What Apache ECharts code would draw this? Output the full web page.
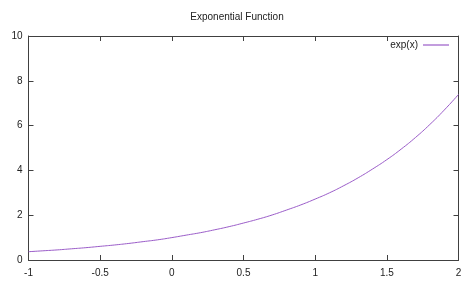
<!DOCTYPE html>
<html>
<head>
<meta charset="utf-8">
<script src="https://cdn.jsdelivr.net/npm/echarts@6/dist/echarts.min.js"></script>
<style>
html,body{margin:0;padding:0;background:#fff;}
#chart{width:474px;height:289px;}
</style>
</head>
<body>
<div id="chart"></div>
<script>
// Values
var xValues = [-1.0,-0.9,-0.8,-0.7,-0.6,-0.5,-0.4,-0.3,-0.2,-0.1,0.0,0.1,0.2,0.3,0.4,0.5,0.6,0.7,0.8,0.9,1.0,1.1,1.2,1.3,1.4,1.5,1.6,1.7,1.8,1.9,2.0];
var yValues = [0.37,0.41,0.45,0.50,0.55,0.61,0.67,0.74,0.82,0.90,1.00,1.11,1.22,1.35,1.49,1.65,1.82,2.01,2.23,2.46,2.72,3.00,3.32,3.67,4.06,4.48,4.95,5.47,6.05,6.69,7.39];
var seriesName = 'exp(x)';
var titleText = 'Exponential Function';

var font = 'Liberation Sans, Arial, sans-serif';
var axisColor = '#404040';
var textColor = '#222';
var lineColor = '#9a5cc8';
var data = xValues.map(function(x, i){ return [x, yValues[i]]; });

var chart = echarts.init(document.getElementById('chart'), null, {renderer:'canvas'});
chart.setOption({
  animation:false,
  backgroundColor:'#fff',
  title:{text:titleText, left:'center', top:7,
    textStyle:{fontFamily:font, fontSize:10, fontWeight:'normal', color:textColor}},
  legend:{right:20, top:35, align:'right', itemWidth:26, itemHeight:1.2, itemGap:6,
    icon:'rect',
    textStyle:{fontFamily:font, fontSize:10, color:textColor},
    data:[{name:seriesName, icon:'rect'}]},
  grid:{left:28.5, right:15.5, top:36, bottom:29, containLabel:false},
  xAxis:[
    {type:'value', min:-1, max:2, interval:0.5, position:'bottom',
     axisLine:{show:true, onZero:false, lineStyle:{color:axisColor, width:1}},
     axisTick:{show:true, inside:true, length:5, lineStyle:{color:axisColor}},
     axisLabel:{margin:8, fontFamily:font, fontSize:10, color:textColor},
     splitLine:{show:false}},
    {type:'value', min:-1, max:2, interval:0.5, position:'top',
     axisLine:{show:true, onZero:false, lineStyle:{color:axisColor, width:1}},
     axisTick:{show:true, inside:true, length:5, lineStyle:{color:axisColor}},
     axisLabel:{show:false}, splitLine:{show:false}}
  ],
  yAxis:[
    {type:'value', min:0, max:10, interval:2, position:'left',
     axisLine:{show:true, onZero:false, lineStyle:{color:axisColor, width:1}},
     axisTick:{show:true, inside:true, length:5, lineStyle:{color:axisColor}},
     axisLabel:{margin:6, fontFamily:font, fontSize:10, color:textColor},
     splitLine:{show:false}},
    {type:'value', min:0, max:10, interval:2, position:'right',
     axisLine:{show:true, onZero:false, lineStyle:{color:axisColor, width:1}},
     axisTick:{show:true, inside:true, length:5, lineStyle:{color:axisColor}},
     axisLabel:{show:false}, splitLine:{show:false}}
  ],
  series:[{
    name:seriesName, type:'line', data:data, smooth:true, showSymbol:false,
    xAxisIndex:0, yAxisIndex:0,
    itemStyle:{color:lineColor},
    lineStyle:{color:lineColor, width:1}
  }]
});
</script>
</body>
</html>
